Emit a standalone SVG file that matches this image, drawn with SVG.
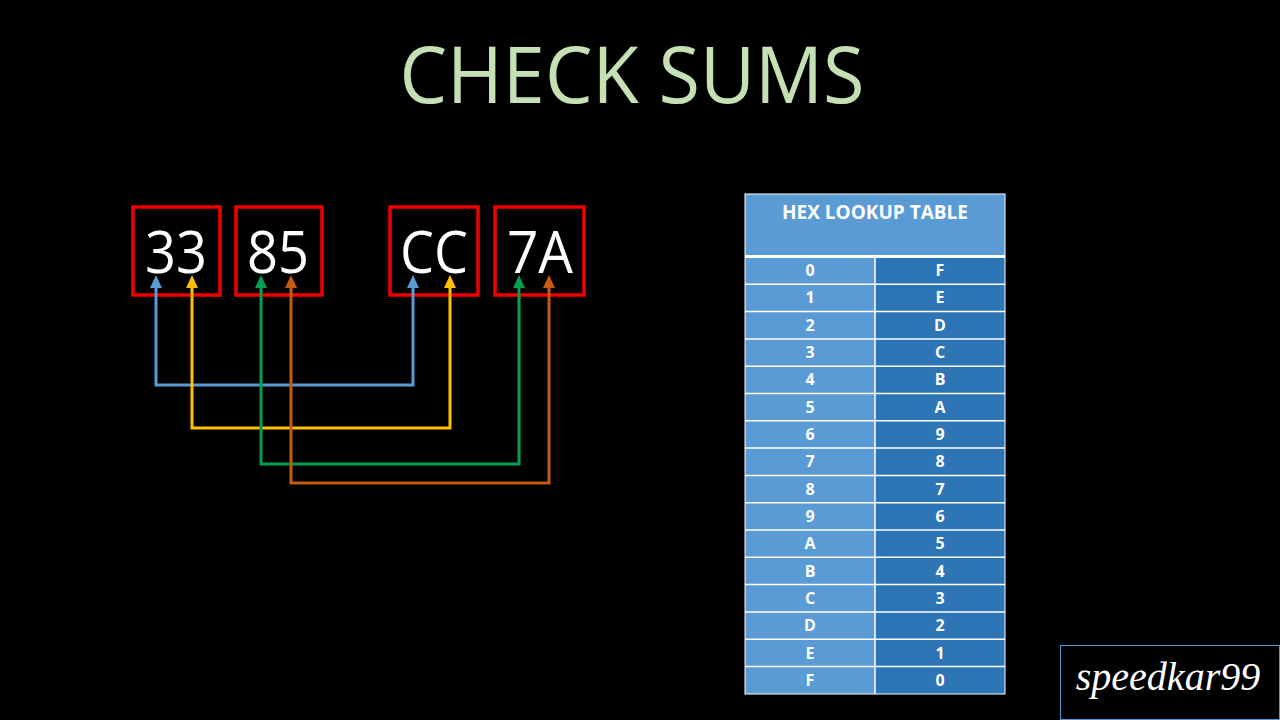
<svg xmlns="http://www.w3.org/2000/svg" width="1280" height="720" viewBox="0 0 1280 720">
<style>
.box{fill:none;stroke:#f00000;stroke-width:3.5}
.num{font-family:"Open Sans","Liberation Sans",sans-serif;font-size:58px;fill:#fff;text-anchor:middle}
.c{fill:none;stroke-width:3}
.t{font-family:"Open Sans","Liberation Sans",sans-serif;font-weight:bold;font-size:16px;fill:#fff;text-anchor:middle}
.h{font-size:19px}
.l{fill:#5b9bd5}
.r{fill:#2e75b6}
.g{stroke:#fff;stroke-width:1.5}
</style>
<rect width="1280" height="720" fill="#000"/>
<text x="632" y="103" font-family="Open Sans,Liberation Sans,sans-serif" font-size="78" fill="#c5e0b4" text-anchor="middle" textLength="465" lengthAdjust="spacingAndGlyphs">CHECK SUMS</text>
<g id="n33"><rect class="box" x="133" y="207" width="87" height="88"/><text class="num" x="176" y="273" textLength="62" lengthAdjust="spacingAndGlyphs">33</text></g>
<g id="n85"><rect class="box" x="236" y="207" width="86" height="88"/><text class="num" x="278" y="273" textLength="62" lengthAdjust="spacingAndGlyphs">85</text></g>
<g id="nCC"><rect class="box" x="390" y="207" width="88" height="88"/><text class="num" x="434" y="273" textLength="68" lengthAdjust="spacingAndGlyphs">CC</text></g>
<g id="n7A"><rect class="box" x="495" y="207" width="89" height="88"/><text class="num" x="540" y="273" textLength="66" lengthAdjust="spacingAndGlyphs">7A</text></g>
<g id="connectors">
<path class="c" stroke="#5b9bd5" d="M156,285 V385 H413 V285"/>
<path fill="#5b9bd5" d="M150,288 L156,275 L162,288 Z M407,288 L413,275 L419,288 Z"/>
<path class="c" stroke="#ffc000" d="M192,285 V428 H450 V285"/>
<path fill="#ffc000" d="M186,288 L192,275 L198,288 Z M444,288 L450,275 L456,288 Z"/>
<path class="c" stroke="#00a050" d="M261,285 V464 H519 V285"/>
<path fill="#00a050" d="M255,288 L261,275 L267,288 Z M513,288 L519,275 L525,288 Z"/>
<path class="c" stroke="#c55a11" d="M291,285 V483 H549 V285"/>
<path fill="#c55a11" d="M285,288 L291,275 L297,288 Z M543,288 L549,275 L555,288 Z"/>
</g>
<g id="table">
<rect x="745" y="194" width="260" height="62" fill="#5b9bd5"/>
<text class="t h" x="875" y="219">HEX LOOKUP TABLE</text>
<rect class="l" x="745" y="257" width="130" height="437"/>
<rect class="r" x="875" y="257" width="130" height="437"/>
<line x1="745" y1="256.5" x2="1005" y2="256.5" stroke="#fff" stroke-width="3"/>
<g class="g">
<line x1="875" y1="257" x2="875" y2="694"/>
<line x1="745" y1="284.3" x2="1005" y2="284.3"/><line x1="745" y1="311.6" x2="1005" y2="311.6"/><line x1="745" y1="338.9" x2="1005" y2="338.9"/><line x1="745" y1="366.2" x2="1005" y2="366.2"/><line x1="745" y1="393.5" x2="1005" y2="393.5"/><line x1="745" y1="420.8" x2="1005" y2="420.8"/><line x1="745" y1="448.1" x2="1005" y2="448.1"/><line x1="745" y1="475.4" x2="1005" y2="475.4"/><line x1="745" y1="502.7" x2="1005" y2="502.7"/><line x1="745" y1="530" x2="1005" y2="530"/><line x1="745" y1="557.3" x2="1005" y2="557.3"/><line x1="745" y1="584.6" x2="1005" y2="584.6"/><line x1="745" y1="611.9" x2="1005" y2="611.9"/><line x1="745" y1="639.2" x2="1005" y2="639.2"/><line x1="745" y1="666.5" x2="1005" y2="666.5"/>
<rect x="745" y="194" width="260" height="500" fill="none" stroke-width="1"/>
</g>
<g class="t">
<text x="810" y="276">0</text><text x="940" y="276">F</text>
<text x="810" y="303">1</text><text x="940" y="303">E</text>
<text x="810" y="331">2</text><text x="940" y="331">D</text>
<text x="810" y="358">3</text><text x="940" y="358">C</text>
<text x="810" y="385">4</text><text x="940" y="385">B</text>
<text x="810" y="413">5</text><text x="940" y="413">A</text>
<text x="810" y="440">6</text><text x="940" y="440">9</text>
<text x="810" y="467">7</text><text x="940" y="467">8</text>
<text x="810" y="495">8</text><text x="940" y="495">7</text>
<text x="810" y="522">9</text><text x="940" y="522">6</text>
<text x="810" y="549">A</text><text x="940" y="549">5</text>
<text x="810" y="577">B</text><text x="940" y="577">4</text>
<text x="810" y="604">C</text><text x="940" y="604">3</text>
<text x="810" y="631">D</text><text x="940" y="631">2</text>
<text x="810" y="659">E</text><text x="940" y="659">1</text>
<text x="810" y="686">F</text><text x="940" y="686">0</text>
</g>
</g>
<g id="watermark">
<rect x="1060.5" y="645.5" width="219" height="74" fill="#000" stroke="#5b9bd5" stroke-width="1"/>
<text x="1168" y="690" font-family="Liberation Serif,serif" font-style="italic" font-size="40" fill="#fff" text-anchor="middle">speedkar99</text>
</g>
</svg>
